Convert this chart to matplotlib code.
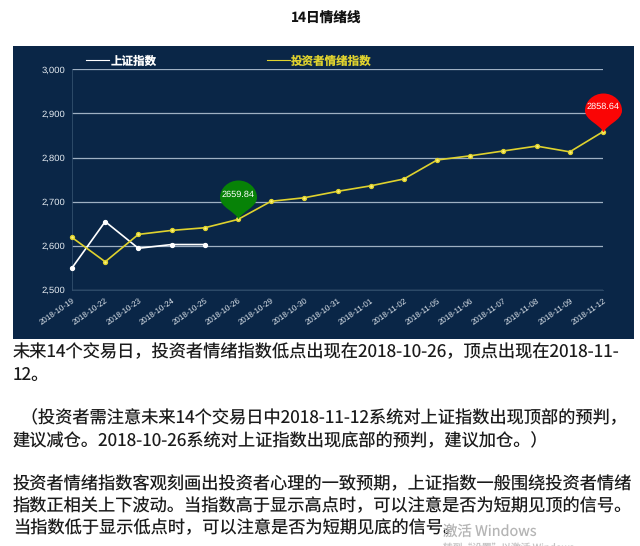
import matplotlib
matplotlib.use("Agg")
import matplotlib.pyplot as plt
from matplotlib.patches import Rectangle
from matplotlib.path import Path

plt.rcParams["font.family"] = ["Noto Sans CJK SC", "DejaVu Sans"]
plt.rcParams["text.hinting"] = "none"

dates = ["2018-10-19", "2018-10-22", "2018-10-23", "2018-10-24", "2018-10-25", "2018-10-26",
         "2018-10-29", "2018-10-30", "2018-10-31", "2018-11-01", "2018-11-02", "2018-11-05",
         "2018-11-06", "2018-11-07", "2018-11-08", "2018-11-09", "2018-11-12"]
sentiment = [2619, 2564, 2626, 2635, 2641, 2659.84, 2701, 2709, 2723.5, 2736, 2751.5, 2794.5,
             2804, 2815, 2826, 2813, 2858.64]
shanghai = [2550, 2655, 2594.5, 2603, 2603]
y_ticks = [2500, 2600, 2700, 2800, 2900, 3000]
low_idx = 5
high_idx = 16

body_lines = [
    "未来14个交易日，投资者情绪指数低点出现在2018-10-26，顶点出现在2018-11-",
    "12。",
    "  （投资者需注意未来14个交易日中2018-11-12系统对上证指数出现顶部的预判，",
    "建议减仓。2018-10-26系统对上证指数出现底部的预判，建议加仓。）",
    "投资者情绪指数客观刻画出投资者心理的一致预期，上证指数一般围绕投资者情绪",
    "指数正相关上下波动。当指数高于显示高点时，可以注意是否为短期见顶的信号。",
    "当指数低于显示低点时，可以注意是否为短期见底的信号。",
]
body_y = [352, 375, 418, 441, 484, 506, 528]

W, H = 640, 546
NAVY = "#0a2647"
YELLOW = "#dfd22e"

# pin shape, tip at the origin, in pixels
k = 0.5523
pin = Path(
    [(0, 0), (-3, 8), (-18.5, 12), (-18.5, 22), (-18.5, 22 + 18.5 * k * 0.9), (-18.5 * k, 39), (0, 39),
     (18.5 * k, 39), (18.5, 22 + 18.5 * k * 0.9), (18.5, 22), (18.5, 12), (3, 8), (0, 0), (0, 0)],
    [Path.MOVETO, Path.CURVE4, Path.CURVE4, Path.CURVE4, Path.CURVE4, Path.CURVE4, Path.CURVE4,
     Path.CURVE4, Path.CURVE4, Path.CURVE4, Path.CURVE4, Path.CURVE4, Path.CURVE4, Path.CLOSEPOLY],
)


def fx(px):
    return px / W


def fy(py):
    return 1 - py / H


fig = plt.figure(figsize=(6.4, 5.46), dpi=100, facecolor="white")
fig.add_artist(Rectangle((fx(13), fy(339)), 621 / W, 293 / H, transform=fig.transFigure,
                         facecolor=NAVY, edgecolor="none", zorder=-1))

ax = fig.add_axes([fx(72), fy(290), (603 - 72) / W, (290 - 69.3) / H])
ax.patch.set_visible(False)
x = list(range(len(dates)))

ax.grid(axis="y", color="#9fb0c3", linewidth=0.9)
ax.set_axisbelow(True)
line1, = ax.plot(x[:len(shanghai)], shanghai, color="white", linewidth=1.2, marker="o", markersize=2.8,
                 clip_on=False, label="上证指数", zorder=3)
line2, = ax.plot(x, sentiment, color=YELLOW, linewidth=1.2, marker="o", markersize=2.8,
                 markerfacecolor="#fff27a", markeredgecolor=YELLOW, clip_on=False, label="投资者情绪指数", zorder=3)

ax.set_xlim(0, len(dates) - 1)
ax.set_ylim(2500, 3000)
ax.set_yticks(y_ticks)
ax.set_yticklabels([f"{v:,}" for v in y_ticks], family="Liberation Sans", fontsize=6.8, color="#e6ecf2")
ax.set_xticks(x)
ax.set_xticklabels(dates, family="Liberation Sans", fontsize=5.8, color="#e6ecf2", rotation=35,
                   ha="right", rotation_mode="anchor")
ax.tick_params(axis="both", length=0)
ax.tick_params(axis="x", pad=5)
ax.tick_params(axis="y", pad=5)
for name, spine in ax.spines.items():
    spine.set_visible(name in ("left", "bottom"))
    spine.set_color("#33506e")
    spine.set_linewidth(0.6)

# marker extremes
for idx, colour in ((low_idx, "#078207"), (high_idx, "#fa0505")):
    ax.plot(x[idx], sentiment[idx], marker=pin, markersize=39 * 2 * 0.72, color=colour,
            markeredgecolor="none", linestyle="none", clip_on=False, zorder=4)
    ax.annotate(f"{sentiment[idx]:.2f}", (x[idx], sentiment[idx]), xytext=(0, 18), textcoords="offset points",
                ha="center", va="center", color="white", fontsize=6.6, family="Liberation Sans",
                annotation_clip=False, zorder=5)

leg = fig.legend(handles=[line1, line2], loc="center left", bbox_to_anchor=(fx(86), fy(61)), ncol=2,
                 frameon=False, borderpad=0, borderaxespad=0, handlelength=2.0, handletextpad=0.1,
                 columnspacing=9.6, prop={"family": "Noto Sans CJK SC", "weight": "bold", "size": 8.3})
for handle, text, colour in zip(leg.legend_handles, leg.get_texts(), ("white", YELLOW)):
    handle.set_marker("")
    handle.set_linewidth(0.8)
    text.set_color(colour)

fig.text(fx(326), fy(19), "14日情绪线", ha="center", va="center", fontsize=9.8, weight="bold", color="#111111")

for py, s in zip(body_y, body_lines):
    fig.text(fx(13), fy(py), s, ha="left", va="center", fontsize=12.4, color="#1a1a1a")

fig.text(fx(443), fy(532), "激活 Windows", ha="left", va="center", fontsize=10.4, color="#b5b5b5")
fig.text(fx(443), fy(548), "转到“设置”以激活 Windows。", ha="left", va="center", fontsize=7, color="#c4c4c4")

fig.savefig("out.png", dpi=100)
